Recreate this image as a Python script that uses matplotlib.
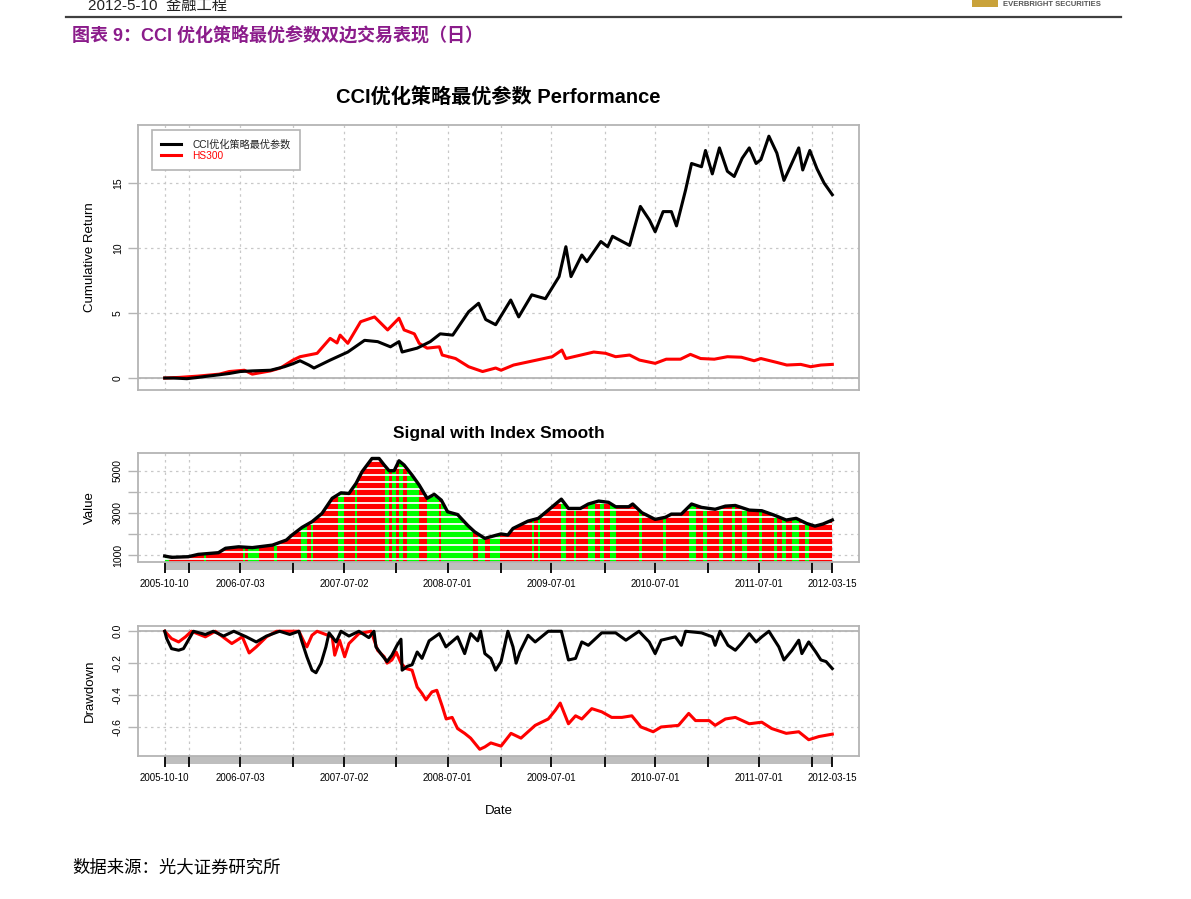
import numpy as np
import pandas as pd
import matplotlib
matplotlib.use('Agg')
import matplotlib.pyplot as plt
import matplotlib.dates as mdates
import matplotlib.transforms as mtransforms
from matplotlib.patches import Rectangle

plt.rcParams['font.family'] = ['Liberation Sans', 'Noto Sans CJK SC', 'DejaVu Sans']

# ---------------- data ----------------
# cumulative return, strategy (black)
cci_dates = ['2005-10-10', '2005-11-10', '2005-12-27', '2006-02-05', '2006-03-12', '2006-04-20',
             '2006-05-25', '2006-07-03', '2006-08-14', '2006-10-17', '2006-12-05', '2007-01-04',
             '2007-01-29', '2007-03-01', '2007-03-19', '2007-05-15', '2007-07-16', '2007-09-13',
             '2007-10-29', '2007-12-13', '2008-01-12', '2008-01-23', '2008-03-16', '2008-05-01',
             '2008-06-05', '2008-07-19', '2008-09-13', '2008-10-18', '2008-11-12', '2008-12-17',
             '2009-02-08', '2009-03-08', '2009-04-23', '2009-06-10', '2009-07-28', '2009-08-21',
             '2009-09-08', '2009-10-16', '2009-11-03', '2009-12-22', '2010-01-15', '2010-02-01',
             '2010-04-02', '2010-05-10', '2010-06-11', '2010-07-01', '2010-07-29', '2010-08-27',
             '2010-09-14', '2010-10-16', '2010-11-06', '2010-12-11', '2010-12-25', '2011-01-18',
             '2011-02-12', '2011-03-12', '2011-04-05', '2011-05-03', '2011-05-28', '2011-06-21',
             '2011-07-08', '2011-08-05', '2011-09-02', '2011-09-27', '2011-10-14', '2011-11-18',
             '2011-12-02', '2011-12-27', '2012-01-21', '2012-02-15', '2012-03-15']
cci_cum = [0.0, 0.0, -0.05, 0.05, 0.15, 0.25,
           0.35, 0.5, 0.55, 0.6, 0.87, 1.1,
           1.33, 1.0, 0.77, 1.38, 2.0, 2.9,
           2.8, 2.4, 2.8, 2.0, 2.3, 2.8,
           3.4, 3.3, 5.1, 5.75, 4.5, 4.1,
           6.0, 4.7, 6.4, 6.1, 7.8, 10.1,
           7.8, 9.46, 8.95, 10.5, 10.1, 10.9,
           10.2, 13.2, 12.15, 11.25, 12.8, 12.8,
           11.7, 14.46, 16.5, 16.25, 17.5, 15.7,
           17.7, 15.9, 15.5, 16.9, 17.7, 16.5,
           16.8, 18.6, 17.3, 15.2, 16.0, 17.7,
           16.0, 17.5, 16.1, 15.0, 14.1]

# cumulative return, HS300 (red)
hs_dates = ['2005-10-10', '2005-12-01', '2006-02-05', '2006-04-20', '2006-05-25', '2006-07-17',
            '2006-08-14', '2006-10-17', '2006-11-21', '2007-01-04', '2007-01-29', '2007-03-30',
            '2007-05-15', '2007-06-08', '2007-06-19', '2007-07-16', '2007-08-30', '2007-10-18',
            '2007-12-03', '2008-01-12', '2008-01-30', '2008-03-06', '2008-03-23', '2008-04-20',
            '2008-06-02', '2008-06-12', '2008-07-29', '2008-09-13', '2008-11-01', '2008-12-17',
            '2009-01-05', '2009-02-18', '2009-05-10', '2009-07-04', '2009-08-07', '2009-08-21',
            '2009-10-13', '2009-11-27', '2010-01-08', '2010-02-12', '2010-04-02', '2010-05-07',
            '2010-07-01', '2010-08-09', '2010-09-28', '2010-11-02', '2010-12-08', '2011-01-25',
            '2011-03-12', '2011-04-30', '2011-06-14', '2011-07-08', '2011-09-02', '2011-10-07',
            '2011-11-25', '2011-12-30', '2012-02-04', '2012-03-15']
hs_cum = [0.0, 0.05, 0.15, 0.3, 0.5, 0.6,
          0.3, 0.55, 0.77, 1.38, 1.64, 1.9,
          3.05, 2.7, 3.3, 2.67, 4.33, 4.7,
          3.7, 4.6, 3.7, 3.4, 2.67, 2.3,
          2.4, 1.77, 1.5, 0.87, 0.5, 0.77,
          0.6, 1.0, 1.38, 1.64, 2.15, 1.5,
          1.77, 2.0, 1.9, 1.64, 1.77, 1.38,
          1.13, 1.45, 1.45, 1.82, 1.5, 1.45,
          1.64, 1.6, 1.33, 1.5, 1.2, 1.0,
          1.05, 0.87, 1.0, 1.05]

# smoothed index (signal panel)
idx_dates = ['2005-10-10', '2005-11-03', '2006-01-01', '2006-02-05', '2006-04-17', '2006-05-12',
             '2006-06-27', '2006-08-14', '2006-10-24', '2006-12-12', '2007-01-01', '2007-02-05',
             '2007-03-12', '2007-04-16', '2007-05-22', '2007-06-22', '2007-07-20', '2007-08-14',
             '2007-09-04', '2007-10-09', '2007-11-03', '2007-11-21', '2007-12-08', '2007-12-26',
             '2008-01-12', '2008-01-30', '2008-02-27', '2008-03-23', '2008-04-20', '2008-05-15',
             '2008-06-09', '2008-07-01', '2008-08-05', '2008-09-10', '2008-10-04', '2008-11-09',
             '2008-11-30', '2009-01-05', '2009-01-29', '2009-02-16', '2009-04-10', '2009-05-16',
             '2009-06-20', '2009-08-05', '2009-08-30', '2009-10-11', '2009-11-08', '2009-12-14',
             '2010-01-18', '2010-02-12', '2010-03-30', '2010-04-13', '2010-05-15', '2010-07-01',
             '2010-08-06', '2010-08-27', '2010-10-01', '2010-11-06', '2010-12-11', '2011-01-28',
             '2011-03-05', '2011-04-09', '2011-05-28', '2011-07-11', '2011-08-22', '2011-10-05',
             '2011-11-09', '2011-12-15', '2012-01-14', '2012-02-11', '2012-03-15']
idx_vals = [950, 890, 920, 1030, 1110, 1320,
            1390, 1350, 1470, 1710, 1950, 2310,
            2580, 2970, 3690, 3950, 3920, 4400,
            4950, 5580, 5580, 5270, 5000, 5000,
            5470, 5270, 4790, 4320, 3690, 3880,
            3600, 3050, 2920, 2400, 2100, 1790,
            1870, 2000, 1950, 2260, 2610, 2740,
            3130, 3650, 3210, 3210, 3420, 3560,
            3500, 3290, 3290, 3420, 3010, 2690,
            2790, 2940, 2940, 3420, 3260, 3170,
            3320, 3350, 3130, 3100, 2900, 2660,
            2740, 2500, 2370, 2470, 2660]

# signal: start of each segment and its colour ('r' long / 'g' short)
sig_start = ['2005-10-10', '2005-10-24', '2006-02-25', '2006-03-05', '2006-07-13', '2006-07-20',
             '2006-07-31', '2006-09-05', '2006-10-31', '2006-11-08', '2007-02-01', '2007-02-22',
             '2007-03-08', '2007-03-15', '2007-06-12', '2007-07-02', '2007-08-10', '2007-08-17',
             '2007-11-24', '2007-12-08', '2007-12-18', '2008-01-01', '2008-01-12', '2008-01-26',
             '2008-02-10', '2008-03-23', '2008-04-20', '2008-06-02', '2008-06-09', '2008-09-30',
             '2008-10-15', '2008-11-09', '2008-11-27', '2009-01-02', '2009-04-23', '2009-04-30',
             '2009-05-16', '2009-05-23', '2009-08-05', '2009-08-23', '2009-09-17', '2009-09-27',
             '2009-11-08', '2009-12-03', '2009-12-20', '2010-01-01', '2010-01-22', '2010-02-12',
             '2010-05-05', '2010-05-15', '2010-07-29', '2010-08-09', '2010-10-27', '2010-11-20',
             '2010-12-15', '2010-12-29', '2011-02-12', '2011-02-26', '2011-03-30', '2011-04-09',
             '2011-05-03', '2011-05-21', '2011-07-01', '2011-07-11', '2011-08-22', '2011-09-02',
             '2011-09-20', '2011-10-05', '2011-10-25', '2011-11-18', '2011-12-09', '2011-12-23']
sig_color = ['g', 'r', 'g', 'r', 'g', 'r',
             'g', 'r', 'g', 'r', 'g', 'r',
             'g', 'r', 'g', 'r', 'g', 'r',
             'g', 'r', 'g', 'r', 'g', 'r',
             'g', 'r', 'g', 'r', 'g', 'r',
             'g', 'r', 'g', 'r', 'g', 'r',
             'g', 'r', 'g', 'r', 'g', 'r',
             'g', 'r', 'g', 'r', 'g', 'r',
             'g', 'r', 'g', 'r', 'g', 'r',
             'g', 'r', 'g', 'r', 'g', 'r',
             'g', 'r', 'g', 'r', 'g', 'r',
             'g', 'r', 'g', 'r', 'g', 'r']

# drawdown, strategy (black)
dd_cci_dates = ['2005-10-10', '2005-10-17', '2005-11-03', '2005-11-28', '2005-12-15', '2006-01-01',
                '2006-01-19', '2006-03-02', '2006-03-30', '2006-05-05', '2006-06-10', '2006-07-24',
                '2006-08-28', '2006-10-03', '2006-11-18', '2006-12-24', '2007-01-25', '2007-02-05',
                '2007-02-22', '2007-03-12', '2007-03-26', '2007-04-13', '2007-04-30', '2007-05-11',
                '2007-06-05', '2007-06-22', '2007-07-20', '2007-08-24', '2007-09-28', '2007-10-16',
                '2007-10-23', '2007-11-09', '2007-12-01', '2007-12-18', '2008-01-05', '2008-01-19',
                '2008-01-23', '2008-02-10', '2008-02-27', '2008-03-16', '2008-04-02', '2008-04-27',
                '2008-06-02', '2008-06-25', '2008-08-05', '2008-08-30', '2008-09-20', '2008-10-15',
                '2008-10-25', '2008-11-09', '2008-11-30', '2008-12-17', '2009-01-05', '2009-01-29',
                '2009-02-16', '2009-02-27', '2009-03-12', '2009-04-10', '2009-05-05', '2009-06-20',
                '2009-08-05', '2009-08-30', '2009-09-24', '2009-10-16', '2009-11-08', '2009-12-25',
                '2010-02-12', '2010-03-20', '2010-05-05', '2010-06-10', '2010-07-01', '2010-07-22',
                '2010-09-10', '2010-10-01', '2010-10-16', '2010-12-11', '2011-01-18', '2011-01-28',
                '2011-02-14', '2011-03-14', '2011-04-09', '2011-04-30', '2011-05-28', '2011-06-21',
                '2011-07-11', '2011-08-05', '2011-09-09', '2011-09-27', '2011-10-25', '2011-11-18',
                '2011-11-29', '2011-12-23', '2012-01-17', '2012-02-04', '2012-02-22', '2012-03-15']
dd_cci = [0.0, -0.046, -0.109, -0.119, -0.109, -0.056,
          0.0, -0.02, 0.0, -0.03, 0.0, -0.035,
          -0.067, -0.03, 0.0, -0.02, 0.0, -0.067,
          -0.16, -0.244, -0.26, -0.2, -0.098, -0.01,
          -0.067, 0.0, -0.03, 0.0, -0.04, 0.0,
          -0.098, -0.14, -0.19, -0.15, -0.088, -0.05,
          -0.244, -0.22, -0.21, -0.13, -0.17, -0.06,
          -0.015, -0.098, -0.035, -0.14, -0.015, -0.06,
          0.0, -0.14, -0.17, -0.244, -0.19, 0.0,
          -0.098, -0.2, -0.13, -0.025, -0.067, 0.0,
          0.0, -0.18, -0.17, -0.067, -0.088, -0.01,
          -0.01, -0.056, 0.0, -0.067, -0.14, -0.056,
          -0.035, -0.088, 0.0, -0.01, -0.035, -0.088,
          0.0, -0.088, -0.119, -0.077, -0.015, -0.067,
          -0.035, 0.0, -0.098, -0.18, -0.12, -0.056,
          -0.14, -0.067, -0.13, -0.18, -0.19, -0.234]

# drawdown, HS300 (red)
dd_hs_dates = ['2005-10-10', '2005-11-03', '2005-11-28', '2005-12-22', '2006-01-12', '2006-03-02',
               '2006-04-06', '2006-06-03', '2006-07-10', '2006-08-03', '2006-08-28', '2006-10-03',
               '2006-11-07', '2007-01-25', '2007-02-12', '2007-02-22', '2007-03-12', '2007-03-30',
               '2007-05-22', '2007-05-31', '2007-06-17', '2007-07-05', '2007-07-20', '2007-08-24',
               '2007-10-06', '2007-10-29', '2007-11-21', '2007-12-01', '2007-12-18', '2008-01-02',
               '2008-01-19', '2008-02-06', '2008-02-27', '2008-03-16', '2008-04-02', '2008-04-16',
               '2008-05-07', '2008-05-24', '2008-06-12', '2008-06-26', '2008-07-17', '2008-08-05',
               '2008-08-30', '2008-09-20', '2008-10-22', '2008-11-09', '2008-11-30', '2009-01-05',
               '2009-02-09', '2009-03-16', '2009-05-05', '2009-06-20', '2009-07-15', '2009-08-01',
               '2009-08-30', '2009-09-24', '2009-10-16', '2009-11-20', '2009-12-25', '2010-01-29',
               '2010-03-06', '2010-04-10', '2010-05-12', '2010-06-24', '2010-07-22', '2010-09-21',
               '2010-10-27', '2010-11-20', '2011-01-07', '2011-01-28', '2011-03-05', '2011-04-09',
               '2011-05-28', '2011-07-11', '2011-08-15', '2011-10-05', '2011-11-18', '2011-12-23',
               '2012-01-28', '2012-03-15']
dd_hs = [0.0, -0.046, -0.067, -0.035, 0.0, -0.035,
         0.0, -0.077, -0.035, -0.136, -0.098, -0.035,
         0.0, 0.0, -0.067, -0.098, -0.025, 0.0,
         -0.035, -0.15, -0.056, -0.16, -0.077, -0.015,
         0.0, -0.12, -0.16, -0.2, -0.18, -0.13,
         -0.2, -0.234, -0.244, -0.35, -0.39, -0.43,
         -0.38, -0.37, -0.47, -0.55, -0.54, -0.61,
         -0.64, -0.67, -0.74, -0.725, -0.70, -0.72,
         -0.64, -0.67, -0.59, -0.55, -0.495, -0.45,
         -0.58, -0.53, -0.55, -0.485, -0.505, -0.54,
         -0.54, -0.53, -0.6, -0.63, -0.6, -0.59,
         -0.515, -0.56, -0.56, -0.59, -0.55, -0.54,
         -0.58, -0.57, -0.61, -0.64, -0.63, -0.68,
         -0.66, -0.645]

tick_dates = ['2005-10-10', '2006-01-04', '2006-07-03', '2007-01-04', '2007-07-02', '2008-01-02',
              '2008-07-01', '2009-01-05', '2009-07-01', '2010-01-04', '2010-07-01', '2011-01-04',
              '2011-07-01', '2012-01-04', '2012-03-15']
tick_labels = ['2005-10-10', '', '2006-07-03', '', '2007-07-02', '', '2008-07-01', '',
               '2009-07-01', '', '2010-07-01', '', '2011-07-01', '', '2012-03-15']

# ---------------- figure ----------------
W, H = 1191, 899
fig = plt.figure(figsize=(W / 100, H / 100), dpi=100)


def box(l, t, r, b):
    return [l / W, 1 - b / H, (r - l) / W, (b - t) / H]


FRAME = '#b4b4b4'
GRID = '#c8c8c8'
RED = '#ff0000'
GREEN = '#00ff00'

d_first = pd.Timestamp(cci_dates[0])
d_last = pd.Timestamp(cci_dates[-1])
span = d_last - d_first
xlim = (d_first - span * 0.04, d_last + span * 0.04)
ticks = pd.to_datetime(tick_dates)


def style(ax, ylim, yticks, ylabels, xlabels):
    ax.set_xlim(*xlim)
    ax.set_ylim(*ylim)
    for s in ax.spines.values():
        s.set_color(FRAME)
        s.set_linewidth(1.3)
    ax.set_axisbelow(True)
    ax.set_xticks(ticks)
    ax.set_yticks(yticks)
    ax.set_yticklabels(ylabels)
    ax.grid(True, color=GRID, linestyle=(0, (2, 3)), linewidth=0.9)
    ax.tick_params(axis='y', length=7, width=1, color=FRAME, labelsize=7.5, labelrotation=90, pad=4)
    for t in ax.get_yticklabels():
        t.set_va('center')
    if xlabels:
        ax.set_xticklabels(tick_labels)
        ax.tick_params(axis='x', length=8, width=1.3, color='black', labelsize=7, pad=4)
        trans = mtransforms.blended_transform_factory(ax.transData, ax.transAxes)
        band_h = 8 / (ax.get_position().height * H)
        x0 = mdates.date2num(d_first)
        x1 = mdates.date2num(d_last)
        ax.add_patch(Rectangle((x0, -band_h), x1 - x0, band_h, transform=trans,
                               facecolor='#bebebe', edgecolor='none', clip_on=False, zorder=0))
    else:
        ax.tick_params(axis='x', length=0, labelbottom=False)


# panel 1: cumulative return
ax1 = fig.add_axes(box(138, 125, 859, 390))
style(ax1, (-0.92, 19.46), [0, 5, 10, 15], ['0', '5', '10', '15'], False)
ax1.axhline(0, color=FRAME, lw=1.3, zorder=1)
ax1.plot(pd.to_datetime(cci_dates), cci_cum, color='black', lw=2.2, label='CCI优化策略最优参数', zorder=3)
ax1.plot(pd.to_datetime(hs_dates), hs_cum, color=RED, lw=2.2, label='HS300', zorder=2)
ax1.set_ylabel('Cumulative Return', fontsize=9.5, labelpad=12)
ax1.set_title('CCI优化策略最优参数 Performance', fontsize=14.5, fontweight='bold', pad=16)
leg = ax1.legend(loc='upper left', bbox_to_anchor=(0.0194, 0.981), borderaxespad=0, fontsize=7.3,
                 frameon=True, fancybox=False, edgecolor=FRAME, framealpha=1, handlelength=2.0,
                 borderpad=0.9, labelspacing=0.1, handletextpad=1.1)
leg.get_frame().set_linewidth(1.2)
for txt, c in zip(leg.get_texts(), ['#222222', RED]):
    txt.set_color(c)

# panel 2: signal with smoothed index
ax2 = fig.add_axes(box(138, 453, 859, 562))
ylim2 = (668, 5840)
style(ax2, ylim2, [1000, 2000, 3000, 4000, 5000], ['1000', '', '3000', '', '5000'], True)
xd = pd.to_datetime(idx_dates)
area = ax2.fill_between(xd, ylim2[0], idx_vals, facecolor='none', edgecolor='none')
clip = area.get_paths()[0]
clip_tr = area.get_transform()
starts = pd.to_datetime(sig_start)
ends = list(starts[1:]) + [d_last]
for s, e, c in zip(starts, ends, sig_color):
    sp = ax2.axvspan(s, e, facecolor=RED if c == 'r' else GREEN, edgecolor='none', lw=0, zorder=1)
    sp.set_clip_path(clip, clip_tr)
for yv in np.arange(ylim2[0] + 160, 6000, 330):
    ln = ax2.axhline(yv, color='white', lw=1.3, zorder=2)
    ln.set_clip_path(clip, clip_tr)
ax2.plot(xd, idx_vals, color='black', lw=2.4, zorder=3)
ax2.set_ylabel('Value', fontsize=9.5, labelpad=12)
ax2.set_title('Signal with Index Smooth', fontsize=12.5, fontweight='bold', pad=11)

# panel 3: drawdown
ax3 = fig.add_axes(box(138, 626, 859, 756))
style(ax3, (-0.782, 0.033), [0, -0.2, -0.4, -0.6], ['0.0', '-0.2', '-0.4', '-0.6'], True)
ax3.axhline(0, color=FRAME, lw=1.3, zorder=1)
ax3.plot(pd.to_datetime(dd_hs_dates), dd_hs, color=RED, lw=2.2, zorder=2)
ax3.plot(pd.to_datetime(dd_cci_dates), dd_cci, color='black', lw=2.2, zorder=3)
ax3.set_ylabel('Drawdown', fontsize=9.5, labelpad=12)
ax3.set_xlabel('Date', fontsize=9.5, labelpad=16)

# ---------------- page decorations ----------------
fig.text(88 / W, 1 - 10 / H, '2012-5-10  金融工程', fontsize=11, color='#222222', va='baseline')
fig.add_artist(plt.Line2D([66 / W, 1121 / W], [1 - 17 / H, 1 - 17 / H], color='#404040', lw=1.6))
fig.add_artist(Rectangle((972 / W, 1 - 7 / H), 26 / W, 7 / H, facecolor='#c9a23a', edgecolor='none'))
fig.text(1003 / W, 1 - 5 / H, 'EVERBRIGHT SECURITIES', fontsize=5.5, color='#555555', va='center',
         fontweight='bold')
fig.text(72 / W, 1 - 35 / H, '图表 9：CCI 优化策略最优参数双边交易表现（日）', fontsize=13,
         fontweight='bold', color='#8b1c8b', va='center')
fig.text(72 / W, 1 - 867 / H, '数据来源：光大证券研究所', fontsize=12.5, color='black', va='center')

fig.savefig('out.png', dpi=100)
